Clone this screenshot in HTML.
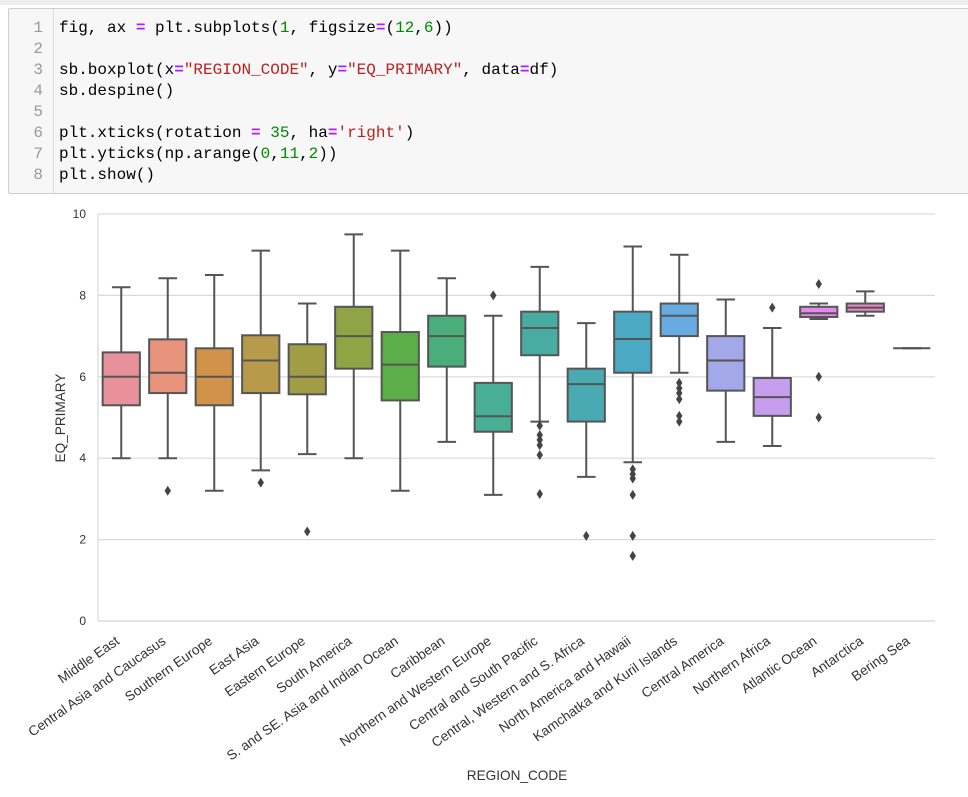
<!DOCTYPE html>
<html><head><meta charset="utf-8">
<style>
body{margin:0;width:968px;height:797px;background:#fff;overflow:hidden;font-family:"Liberation Sans",sans-serif;}
#topbar{position:absolute;left:0;top:0;width:968px;height:5px;background:#eee;}
#code{position:absolute;left:8px;top:8px;width:970px;height:184px;background:#f7f7f7;border:1px solid #cfcfcf;border-radius:2px;}
#gutter{position:absolute;left:0;top:0;width:44px;height:184px;border-right:1px solid #ddd;}
.ln{position:absolute;left:0;width:34px;text-align:right;color:#999;font:16px "Liberation Mono",monospace;}
.cl{position:absolute;left:50px;font:16px "Liberation Mono",monospace;color:#000;white-space:pre;}
.o{color:#a2f;font-weight:bold}.n{color:#080}.s{color:#ba2121}
svg{position:absolute;left:0;top:0;}
</style></head><body>
<div id="topbar"></div>
<div id="code">
<div id="gutter"></div>
<div class="ln" style="top:10px">1</div><div class="cl" style="top:10px">fig, ax <span class="o">=</span> plt.subplots(<span class="n">1</span>, figsize<span class="o">=</span>(<span class="n">12</span>,<span class="n">6</span>))</div>
<div class="ln" style="top:31px">2</div>
<div class="ln" style="top:52px">3</div><div class="cl" style="top:52px">sb.boxplot(x<span class="o">=</span><span class="s">"REGION_CODE"</span>, y<span class="o">=</span><span class="s">"EQ_PRIMARY"</span>, data<span class="o">=</span>df)</div>
<div class="ln" style="top:73px">4</div><div class="cl" style="top:73px">sb.despine()</div>
<div class="ln" style="top:94px">5</div>
<div class="ln" style="top:115px">6</div><div class="cl" style="top:115px">plt.xticks(rotation <span class="o">=</span> <span class="n">35</span>, ha<span class="o">=</span><span class="s">'right'</span>)</div>
<div class="ln" style="top:136px">7</div><div class="cl" style="top:136px">plt.yticks(np.arange(<span class="n">0</span>,<span class="n">11</span>,<span class="n">2</span>))</div>
<div class="ln" style="top:157px">8</div><div class="cl" style="top:157px">plt.show()</div>
</div>
<svg id="chart" width="968" height="797"></svg>
<script>
const categories=["Middle East","Central Asia and Caucasus","Southern Europe","East Asia","Eastern Europe","South America","S. and SE. Asia and Indian Ocean","Caribbean","Northern and Western Europe","Central and South Pacific","Central, Western and S. Africa","North America and Hawaii","Kamchatka and Kuril Islands","Central America","Northern Africa","Atlantic Ocean","Antarctica","Bering Sea"];
const whiskerLow=[4.0,4.0,3.2,3.7,4.1,4.0,3.2,4.4,3.1,4.9,3.54,3.9,6.1,4.4,4.3,7.42,7.5,6.7];
const q1=[5.3,5.6,5.3,5.6,5.57,6.2,5.42,6.25,4.65,6.53,4.9,6.1,7.0,5.66,5.04,7.47,7.6,6.7];
const median=[6.0,6.1,6.0,6.4,6.0,7.0,6.3,7.0,5.03,7.2,5.82,6.93,7.5,6.4,5.5,7.56,7.7,6.7];
const q3=[6.6,6.92,6.7,7.02,6.8,7.72,7.1,7.5,5.85,7.6,6.2,7.6,7.8,7.0,5.97,7.72,7.8,6.7];
const whiskerHigh=[8.2,8.42,8.5,9.1,7.8,9.5,9.1,8.42,7.5,8.7,7.32,9.2,9.0,7.9,7.2,7.8,8.1,6.7];
const outliers=[[],[3.2],[],[3.4],[2.2],[],[],[],[8.0],[4.8,4.57,4.45,4.32,4.08,3.12],[2.09],[3.73,3.61,3.5,3.1,2.09,1.6],[5.85,5.72,5.6,5.45,5.04,4.9],[],[7.7],[8.28,6.0,5.0],[],[]];
const colors=["#e8919b","#e8937b","#d09349","#b89a4b","#a19d45","#8fa545","#5cae49","#49ae7a","#49ae96","#49aca2","#49aab2","#4aaac4","#68aae2","#a3a8e8","#c79ded","#e28be9","#e889c9","#e889c9"];
const yTicks=[0,2,4,6,8,10];
const L=98,R=935,T=214,B=621;
const y=v=>B-(v-0)/(10-0)*(B-T);
const bw=(R-L)/categories.length;
const x=i=>L+bw*(i+0.5);
const svg=document.getElementById('chart');
const NS='http://www.w3.org/2000/svg';
function mk(t,a,p){const e=document.createElementNS(NS,t);for(const k in a)e.setAttribute(k,a[k]);(p||svg).appendChild(e);return e;}
yTicks.forEach(t=>{
 const g=mk('line',{x1:L,x2:R,y1:y(t),y2:y(t),stroke:'#d9d9d9','stroke-width':1.2});
 
 
 const tx=mk('text',{x:L-12,y:y(t)+4,'text-anchor':'end','font-size':12,fill:'#333','font-family':'Liberation Sans, sans-serif'});
 tx.textContent=t;
 
 
});
const ax=mk('line',{x1:L,x2:L,y1:T,y2:B,stroke:'#d9d9d9','stroke-width':1.2});


const bx=mk('line',{x1:L,x2:R,y1:B,y2:B,stroke:'#d9d9d9','stroke-width':1.2});


const st='#555',sw=2;
categories.forEach((c,i)=>{
 const cx=x(i),w=bw*0.8,cap=w/2;
 const g=mk('g',{});
 
 
 mk('line',{x1:cx,x2:cx,y1:y(whiskerHigh[i]),y2:y(q3[i]),stroke:st,'stroke-width':sw},g);
 mk('line',{x1:cx,x2:cx,y1:y(q1[i]),y2:y(whiskerLow[i]),stroke:st,'stroke-width':sw},g);
 mk('line',{x1:cx-cap/2,x2:cx+cap/2,y1:y(whiskerHigh[i]),y2:y(whiskerHigh[i]),stroke:st,'stroke-width':sw},g);
 mk('line',{x1:cx-cap/2,x2:cx+cap/2,y1:y(whiskerLow[i]),y2:y(whiskerLow[i]),stroke:st,'stroke-width':sw},g);
 if(q3[i]>q1[i]) mk('rect',{x:cx-w/2,y:y(q3[i]),width:w,height:y(q1[i])-y(q3[i]),fill:colors[i],stroke:st,'stroke-width':sw},g);
 mk('line',{x1:cx-w/2,x2:cx+w/2,y1:y(median[i]),y2:y(median[i]),stroke:st,'stroke-width':sw},g);
 outliers[i].forEach(o=>{
  const d=mk('path',{d:`M${cx} ${y(o)-5}L${cx+3.2} ${y(o)}L${cx} ${y(o)+5}L${cx-3.2} ${y(o)}Z`,fill:'#444'},g);
  
  
 });
 const tx=mk('text',{x:cx-1,y:B+22,'text-anchor':'end','font-size':13.6,fill:'#333','font-family':'Liberation Sans, sans-serif',transform:`rotate(-35 ${cx-1} ${B+22})`});
 tx.textContent=c;
 
 
});
const yl=mk('text',{x:65,y:418,'text-anchor':'middle','font-size':13.6,fill:'#333','font-family':'Liberation Sans, sans-serif',transform:'rotate(-90 65 418)'});
yl.textContent='EQ_PRIMARY';


const xl=mk('text',{x:517,y:780,'text-anchor':'middle','font-size':13.6,fill:'#333','font-family':'Liberation Sans, sans-serif'});
xl.textContent='REGION_CODE';


</script>
</body></html>
